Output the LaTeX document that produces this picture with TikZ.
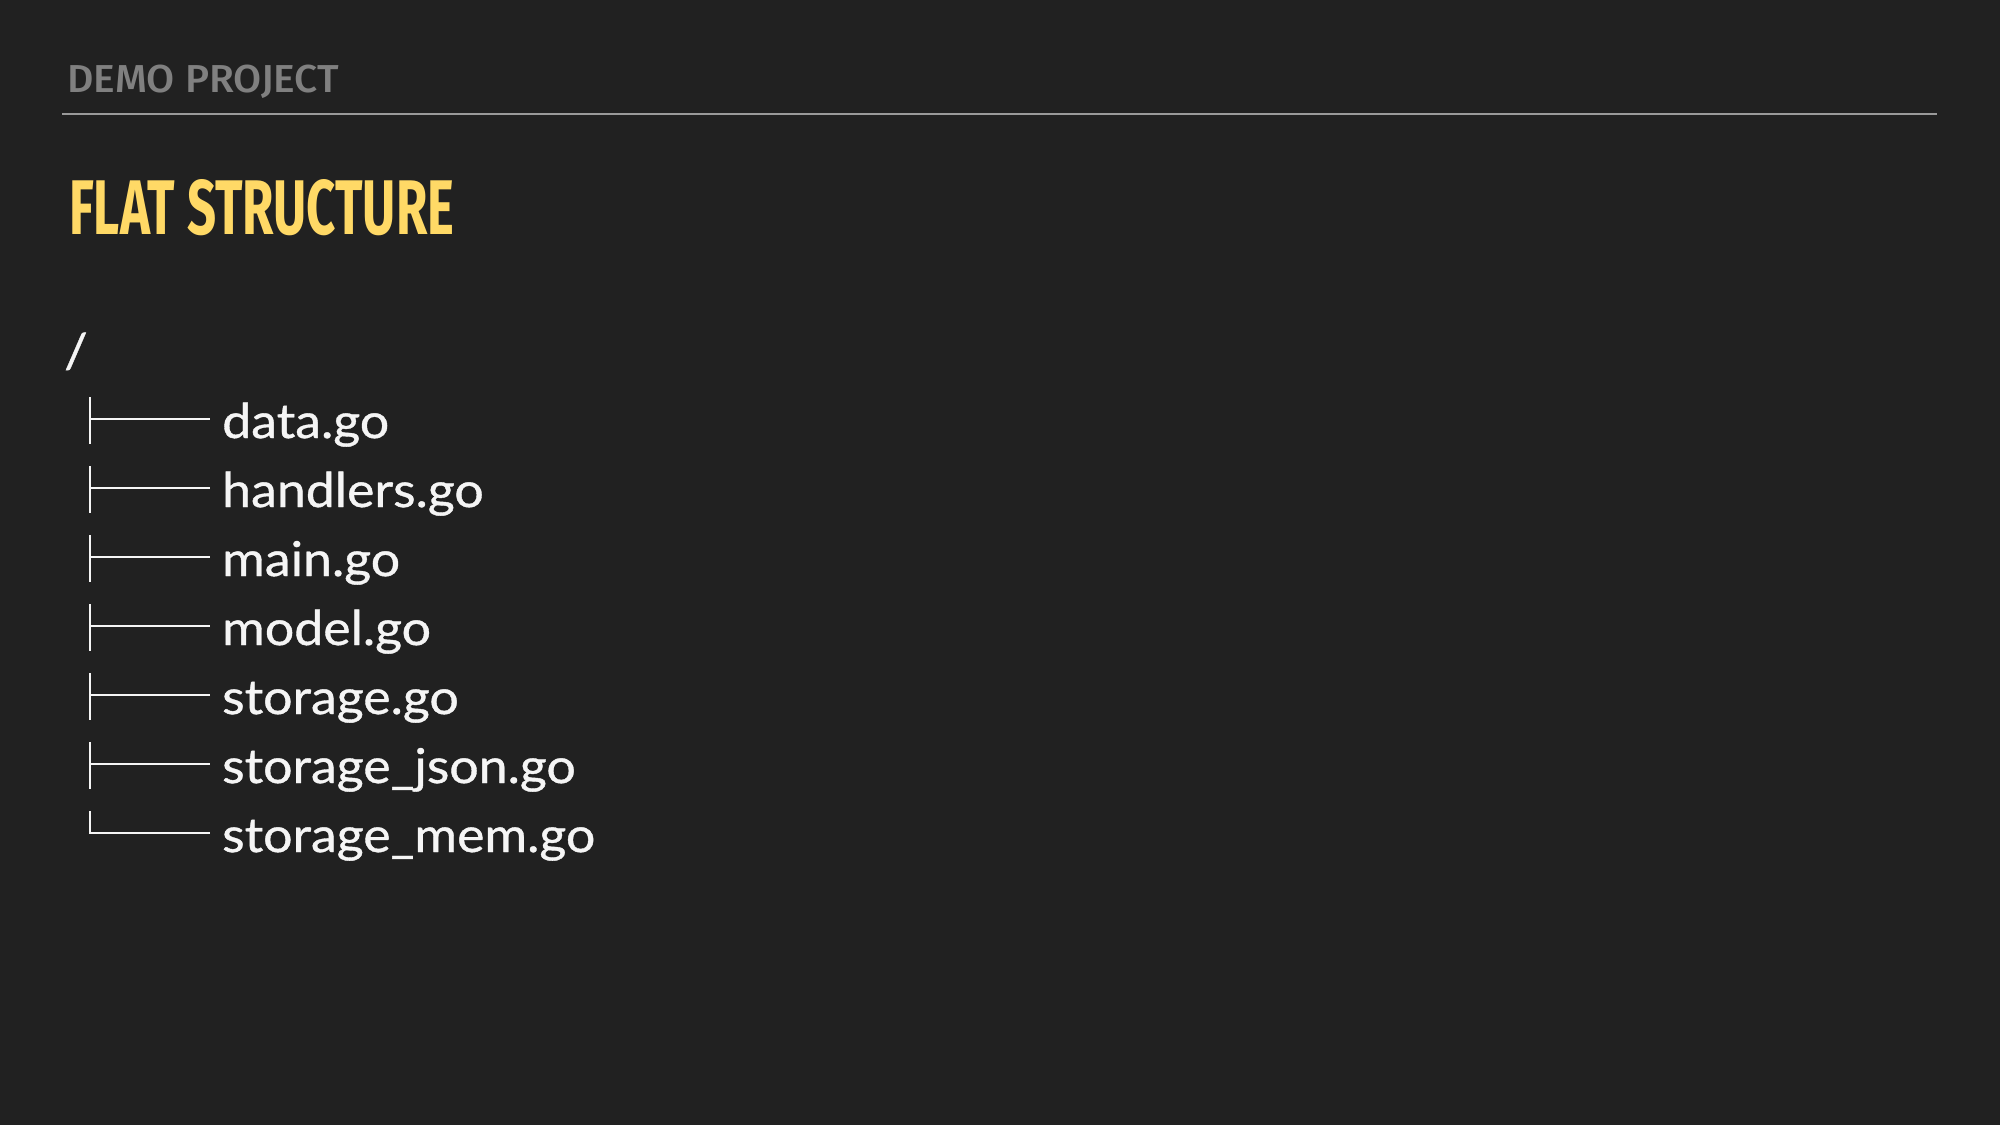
\documentclass[tikz,border=0pt]{standalone}
\usepackage{fontspec}
\usepackage{graphicx}
\setmainfont{Lato}
\newfontfamily\treefont[FakeStretch=1.08,FakeBold=0.8]{Lato}
\newfontfamily\headfont{Fira Sans}
\newfontfamily\headmed{Fira Sans Medium}
\definecolor{bgc}{HTML}{212121}
\definecolor{graytxt}{HTML}{808080}
\definecolor{rulec}{HTML}{9A9A9A}
\definecolor{titleyel}{HTML}{FFD966}
\definecolor{treetxt}{HTML}{F5F5F5}
\tikzset{
  file/.style={anchor=base west, inner sep=0pt, text=treetxt, font=\treefont\fontsize{48}{48}\selectfont},
  branch/.style={draw=treetxt, line width=2pt},
}
\begin{document}
\begin{tikzpicture}[x=1pt,y=-1pt]
\fill[bgc] (0,0) rectangle (2000,1125);
\useasboundingbox (0,0) rectangle (2000,1125);
% header
\node[anchor=base west, inner sep=0pt, text=graytxt] (demo) at (67,92)
  {\resizebox{272pt}{27.5pt}{\headmed DEMO PROJECT}};
\coordinate (ruleL) at (62,114);
\coordinate (ruleR) at (1937,114);
\draw[rulec, line width=2.2pt] (ruleL) -- (ruleR);
\node[anchor=base west, inner sep=0pt, text=titleyel] (title) at (69,234)
  {\resizebox{385pt}{55pt}{\headfont\bfseries FLAT STRUCTURE}};
% tree
\node[file] (root) at (64,368) {/};
\foreach \i/\name in {1/data.go,2/handlers.go,3/main.go,4/model.go,5/storage.go,6/storage\_json.go,7/storage\_mem.go}{
  \pgfmathsetmacro{\yb}{438+(\i-1)*69}
  \pgfmathsetmacro{\yh}{419+(\i-1)*69}
  \node[file] (f\i) at (222,\yb) {\name};
  \coordinate (t\i) at (90,\yh);
  \coordinate (e\i) at (210,\yh);
}
\foreach \i in {1,...,6}{
  \draw[branch] ([yshift=22pt]t\i) -- ([yshift=-25pt]t\i);
  \draw[branch] (t\i) -- (e\i);
}
\draw[branch] ([yshift=22pt]t7) -- (t7) -- (e7);
\end{tikzpicture}
\end{document}
